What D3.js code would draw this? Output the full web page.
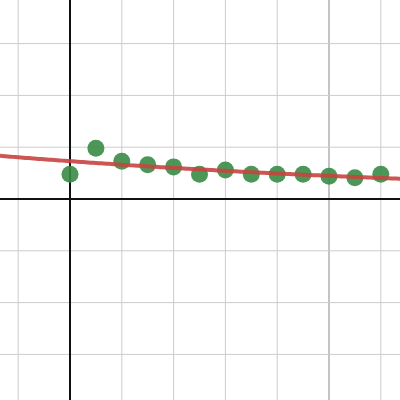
<!DOCTYPE html>
<html>
<head>
<meta charset="utf-8">
<script src="https://cdn.jsdelivr.net/npm/d3@7"></script>
<style>
  body { margin: 0; background: #fff; }
  svg { display: block; }
</style>
</head>
<body>
<svg id="chart" width="400" height="400"></svg>
<script>
// data points (x, y)
var xValues = [0, 0.5, 1, 1.5, 2, 2.5, 3, 3.5, 4, 4.5, 5, 5.5, 6];
var yValues = [0.48, 0.98, 0.73, 0.66, 0.62, 0.48, 0.56, 0.48, 0.48, 0.48, 0.44, 0.41, 0.48];

// fitted model y = a * exp(-b * x)
var fitA = 0.73;
var fitB = 0.098;

var width = 400, height = 400;
var unit = 51.8;
var x = d3.scaleLinear().domain([-70 / unit, (width - 70) / unit]).range([0, width]);
var y = d3.scaleLinear().domain([-(height - 199) / unit, 199 / unit]).range([height, 0]);

var svg = d3.select("#chart");

// grid lines
var xTicks = d3.range(-1, 7);
var yTicks = d3.range(-3, 4);
svg.append("g").selectAll("line").data(xTicks.filter(d => d !== 0)).enter()
  .append("line")
  .attr("x1", d => x(d)).attr("x2", d => x(d))
  .attr("y1", 0).attr("y2", height)
  .attr("stroke", d => d % 5 === 0 ? "#888" : "#ccc")
  .attr("stroke-width", 1);
svg.append("g").selectAll("line").data(yTicks.filter(d => d !== 0)).enter()
  .append("line")
  .attr("y1", d => y(d)).attr("y2", d => y(d))
  .attr("x1", 0).attr("x2", width)
  .attr("stroke", "#ccc")
  .attr("stroke-width", 1);

// axes
svg.append("line").attr("x1", x(0)).attr("x2", x(0)).attr("y1", 0).attr("y2", height)
  .attr("stroke", "#111").attr("stroke-width", 2);
svg.append("line").attr("y1", y(0)).attr("y2", y(0)).attr("x1", 0).attr("x2", width)
  .attr("stroke", "#111").attr("stroke-width", 2);

// points
svg.append("g").selectAll("circle").data(xValues).enter()
  .append("circle")
  .attr("cx", d => x(d))
  .attr("cy", (d, i) => y(yValues[i]))
  .attr("r", 8.5)
  .attr("fill", "#388c46")
  .attr("fill-opacity", 0.9);

// fit curve
var curveX = d3.range(x.domain()[0], x.domain()[1] + 0.05, 0.05);
var line = d3.line().x(d => x(d)).y(d => y(fitA * Math.exp(-fitB * d)));
svg.append("path").datum(curveX)
  .attr("d", line)
  .attr("fill", "none")
  .attr("stroke", "#c74440")
  .attr("stroke-width", 4)
  .attr("stroke-opacity", 0.9);
</script>
</body>
</html>
